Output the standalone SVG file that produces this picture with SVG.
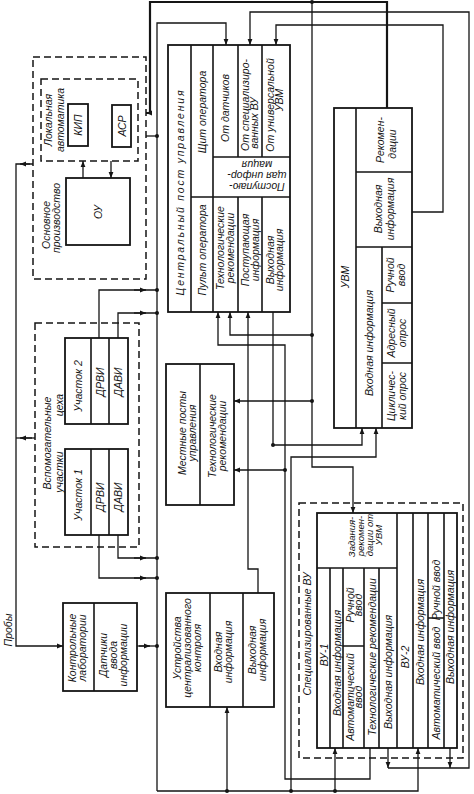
<svg xmlns="http://www.w3.org/2000/svg" width="474" height="794" viewBox="0 0 474 794">
<style>
.bx{fill:none;stroke:#151515;stroke-width:1.8}
.ln{fill:none;stroke:#151515;stroke-width:1.6}
.ds{fill:none;stroke:#151515;stroke-width:1.5;stroke-dasharray:7 4}
.c{fill:none;stroke:#151515;stroke-width:1.3}
.d{fill:#151515}
.t{font-family:"Liberation Sans",Arial,sans-serif;font-style:italic;font-size:10.5px;fill:#151515;text-anchor:middle}
.s{font-size:9.5px}
</style>
<defs>
<marker id="a" viewBox="0 0 10 10" refX="10" refY="5" markerWidth="7" markerHeight="6" orient="auto" markerUnits="userSpaceOnUse"><path d="M0,1 L10,5 L0,9 z" fill="#151515"/></marker>
</defs>
<rect width="474" height="794" fill="#fff"/>

<g id="osnovnoe">
<rect class="ds" x="33" y="57" width="113" height="222"/>
<text class="t" transform="translate(46,225) rotate(-90)" dy="0.35em">Основное</text>
<text class="t" transform="translate(56,218) rotate(-90)" dy="0.35em">производство</text>
</g>
<g id="lokalnaya">
<rect class="ds" x="41" y="79" width="97" height="82"/>
<text class="t" transform="translate(48,120) rotate(-90)" dy="0.35em">Локальная</text>
<text class="t" transform="translate(60,120) rotate(-90)" dy="0.35em">автоматика</text>
</g>
<g id="kip">
<rect class="bx" x="68" y="104" width="20" height="42"/>
<text class="t" transform="translate(78,125) rotate(-90)" dy="0.35em">КИП</text>
</g>
<g id="asr">
<rect class="bx" x="112" y="105" width="19" height="42"/>
<text class="t" transform="translate(122,126) rotate(-90)" dy="0.35em">АСР</text>
</g>
<g id="ou">
<rect class="bx" x="66" y="178" width="64" height="67"/>
<text class="t" transform="translate(98,212) rotate(-90)" dy="0.35em">ОУ</text>
</g>

<g id="vspomog">
<rect class="ds" x="35" y="323" width="104" height="224"/>
<text class="t" transform="translate(47,443) rotate(-90)" dy="0.35em">Вспомогательные</text>
<text class="t" transform="translate(59,405) rotate(-90)" dy="0.35em">цеха</text>
<text class="t" transform="translate(59,472) rotate(-90)" dy="0.35em">участки</text>
</g>
<g id="uch2">
<rect class="bx" x="65" y="338" width="63" height="86"/>
<path class="ln" d="M91 338V424M109 338V424"/>
<text class="t" transform="translate(78,386) rotate(-90)" dy="0.35em">Участок 2</text>
<text class="t" transform="translate(100,382) rotate(-90)" dy="0.35em">ДРВИ</text>
<text class="t" transform="translate(118,382) rotate(-90)" dy="0.35em">ДАВИ</text>
</g>
<g id="uch1">
<rect class="bx" x="65" y="449" width="63" height="86"/>
<path class="ln" d="M91 449V535M109 449V535"/>
<text class="t" transform="translate(78,495) rotate(-90)" dy="0.35em">Участок 1</text>
<text class="t" transform="translate(100,497) rotate(-90)" dy="0.35em">ДРВИ</text>
<text class="t" transform="translate(118,497) rotate(-90)" dy="0.35em">ДАВИ</text>
</g>

<g id="laborat">
<rect class="bx" x="63" y="603" width="74" height="88"/>
<path class="ln" d="M94 603V691"/>
<text class="t" transform="translate(72,648) rotate(-90)" dy="0.35em">Контрольные</text>
<text class="t" transform="translate(82,648) rotate(-90)" dy="0.35em">лаборатории</text>
<text class="t" transform="translate(103,655) rotate(-90)" dy="0.35em">Датчики</text>
<text class="t" transform="translate(113,655) rotate(-90)" dy="0.35em">ввода</text>
<text class="t" transform="translate(123,655) rotate(-90)" dy="0.35em">информации</text>
</g>
<text class="t" transform="translate(8,630) rotate(-90)" dy="0.35em">Пробы</text>

<g id="centralny">
<rect class="bx" x="168" y="45" width="122" height="267"/>
<path class="ln" d="M191 45V312M213 45V312M191 197H290M213 157H290M238 45V157M262 45V157M238 197V312M262 197V312"/>
<text class="t" transform="translate(180,193) rotate(-90)" dy="0.35em" textLength="205">Центральный пост управления</text>
<text class="t" transform="translate(202,112) rotate(-90)" dy="0.35em">Щит оператора</text>
<text class="t" transform="translate(202,250) rotate(-90)" dy="0.35em">Пульт оператора</text>
<text class="t" transform="translate(225,108) rotate(-90)" dy="0.35em">От датчиков</text>
<text class="t" transform="translate(245,105) rotate(-90)" dy="0.35em">От специализиро-</text>
<text class="t" transform="translate(254,123) rotate(-90)" dy="0.35em">ванных ВУ</text>
<text class="t" transform="translate(270,105) rotate(-90)" dy="0.35em">От универсальной</text>
<text class="t" transform="translate(279,100) rotate(-90)" dy="0.35em">УВМ</text>
<text class="t" transform="translate(257,187) rotate(180)" dy="0.35em">Поступаю-</text>
<text class="t" transform="translate(257,176) rotate(180)" dy="0.35em">щая инфор-</text>
<text class="t" transform="translate(257,165) rotate(180)" dy="0.35em">мация</text>
<text class="t" transform="translate(220,248) rotate(-90)" dy="0.35em">Технологические</text>
<text class="t" transform="translate(230,248) rotate(-90)" dy="0.35em">рекомендации</text>
<text class="t" transform="translate(245,250) rotate(-90)" dy="0.35em">Поступающая</text>
<text class="t" transform="translate(255,250) rotate(-90)" dy="0.35em">информация</text>
<text class="t" transform="translate(270,260) rotate(-90)" dy="0.35em">Выходная</text>
<text class="t" transform="translate(279,260) rotate(-90)" dy="0.35em">информация</text>
</g>

<g id="mestnye">
<rect class="bx" x="166" y="364" width="68" height="141"/>
<path class="ln" d="M200 364V505"/>
<text class="t" transform="translate(182,433) rotate(-90)" dy="0.35em">Местные посты</text>
<text class="t" transform="translate(192,433) rotate(-90)" dy="0.35em">управления</text>
<text class="t" transform="translate(212,436) rotate(-90)" dy="0.35em">Технологические</text>
<text class="t" transform="translate(222,436) rotate(-90)" dy="0.35em">рекомендации</text>
</g>

<g id="ustroystva">
<rect class="bx" x="166" y="593" width="108" height="114"/>
<path class="ln" d="M210 593V707M243 593V707"/>
<text class="t" transform="translate(177,648) rotate(-90)" dy="0.35em">Устройства</text>
<text class="t" transform="translate(187,648) rotate(-90)" dy="0.35em">централизованного</text>
<text class="t" transform="translate(197,648) rotate(-90)" dy="0.35em">контроля</text>
<text class="t" transform="translate(218,652) rotate(-90)" dy="0.35em">Входная</text>
<text class="t" transform="translate(228,652) rotate(-90)" dy="0.35em">информация</text>
<text class="t" transform="translate(252,650) rotate(-90)" dy="0.35em">Выходная</text>
<text class="t" transform="translate(262,650) rotate(-90)" dy="0.35em">информация</text>
</g>

<g id="uvm">
<rect class="bx" x="334" y="108" width="78" height="320"/>
<path class="ln" d="M356 108V428M356 172H412M356 247H412M382 247V428M382 303H412M382 363H412"/>
<text class="t" transform="translate(345,277) rotate(-90)" dy="0.35em">УВМ</text>
<text class="t" transform="translate(380,140) rotate(-90)" dy="0.35em">Рекомен-</text>
<text class="t" transform="translate(392,144) rotate(-90)" dy="0.35em">дации</text>
<text class="t" transform="translate(378,209) rotate(-90)" dy="0.35em">Выходная</text>
<text class="t" transform="translate(390,209) rotate(-90)" dy="0.35em">информация</text>
<text class="t" transform="translate(369,343) rotate(-90)" dy="0.35em">Входная информация</text>
<text class="t" transform="translate(390,275) rotate(-90)" dy="0.35em">Ручной</text>
<text class="t" transform="translate(401,275) rotate(-90)" dy="0.35em">ввод</text>
<text class="t" transform="translate(391,333) rotate(-90)" dy="0.35em">Адресный</text>
<text class="t" transform="translate(402,333) rotate(-90)" dy="0.35em">опрос</text>
<text class="t" transform="translate(391,396) rotate(-90)" dy="0.35em">Цикличес-</text>
<text class="t" transform="translate(402,396) rotate(-90)" dy="0.35em">кий опрос</text>
</g>

<g id="spec-vu">
<rect class="ds" x="299" y="503" width="164" height="255"/>
<text class="t" transform="translate(307,634) rotate(-90)" dy="0.35em">Специализированные ВУ</text>
<rect class="bx" x="317" y="513" width="140" height="235"/>
<path class="ln" d="M317 568H397M330 568V748M343 568V748M364 568V748M379 568V748M397 513V748M413 513V748M428 513V748M444 513V748M343 646H364M428 618H444"/>
<text class="t s" transform="translate(352,537) rotate(-90)" dy="0.35em">Задания-</text>
<text class="t s" transform="translate(361,536) rotate(-90)" dy="0.35em">рекомен-</text>
<text class="t s" transform="translate(370,535) rotate(-90)" dy="0.35em">дации от</text>
<text class="t s" transform="translate(379,535) rotate(-90)" dy="0.35em">УВМ</text>
<text class="t" transform="translate(324,655) rotate(-90)" dy="0.35em">ВУ-1</text>
<text class="t" transform="translate(337,663) rotate(-90)" dy="0.35em">Входная информация</text>
<text class="t" transform="translate(350,605) rotate(-90)" dy="0.35em">Ручной</text>
<text class="t" transform="translate(358,605) rotate(-90)" dy="0.35em">ввод</text>
<text class="t" transform="translate(350,697) rotate(-90)" dy="0.35em">Автоматический</text>
<text class="t" transform="translate(358,697) rotate(-90)" dy="0.35em">ввод</text>
<text class="t" transform="translate(372,657) rotate(-90)" dy="0.35em">Технологические рекомендации</text>
<text class="t" transform="translate(388,672) rotate(-90)" dy="0.35em">Выходная информация</text>
<text class="t" transform="translate(405,657) rotate(-90)" dy="0.35em">ВУ-2</text>
<text class="t" transform="translate(420,632) rotate(-90)" dy="0.35em">Входная информация</text>
<text class="t" transform="translate(436,590) rotate(-90)" dy="0.35em">Ручной ввод</text>
<text class="t" transform="translate(436,683) rotate(-90)" dy="0.35em">Автоматический ввод</text>
<text class="t" transform="translate(450,627) rotate(-90)" dy="0.35em">Выходная информация</text>
</g>

<g id="connectors">
<path class="c" d="M33 164H16V646H63" marker-end="url(#a)"/>
<path class="c" d="M30 164H20" marker-end="url(#a)"/>
<path class="c" d="M35 438H16"/>
<path class="c" d="M32 438H20" marker-end="url(#a)"/>
<path class="c" d="M83 178V161" marker-end="url(#a)"/>
<path class="c" d="M111 161V178" marker-end="url(#a)"/>
<path class="c" d="M146 136H157"/>
<path class="c" style="stroke-width:2.2" d="M387 108V2H150V113H146" marker-end="url(#a)"/>
<path class="c" d="M312 2V467H353V513" marker-end="url(#a)"/>
<path class="c" d="M312 335H230V312" marker-end="url(#a)"/>
<path class="c" d="M312 401H234" marker-end="url(#a)"/>
<path class="c" d="M157 791V23H226V45" marker-end="url(#a)"/>
<path class="c" d="M157 791H418V748" marker-end="url(#a)"/>
<path class="c" d="M227 791V707" marker-end="url(#a)"/>
<path class="c" d="M335 791V748" marker-end="url(#a)"/>
<path class="c" d="M291 791V457H376V428" marker-end="url(#a)"/>
<path class="c" d="M99 338V290H157"/>
<path class="c" d="M134 290H146" marker-end="url(#a)"/>
<path class="c" d="M118 338V313H157"/>
<path class="c" d="M134 313H146" marker-end="url(#a)"/>
<path class="c" d="M99 535V578H157"/>
<path class="c" d="M134 578H146" marker-end="url(#a)"/>
<path class="c" d="M118 535V558H157"/>
<path class="c" d="M134 558H146" marker-end="url(#a)"/>
<path class="c" d="M137 646H157"/>
<path class="c" d="M139 646H150" marker-end="url(#a)"/>
<path class="c" d="M273 312V445H362V428" marker-end="url(#a)"/>
<path class="c" d="M258 593V569H248V312" marker-end="url(#a)"/>
<path class="c" d="M370 748V779H285V345H218V312" marker-end="url(#a)"/>
<path class="c" d="M285 470H234" marker-end="url(#a)"/>
<path class="c" d="M388 748V768" marker-end="url(#a)"/>
<path class="c" d="M450 748V768" marker-end="url(#a)"/>
<path class="c" d="M388 768H469V12H250V45" marker-end="url(#a)"/>
<path class="c" d="M412 212H443V25H276V45" marker-end="url(#a)"/>
<g class="d">
<circle cx="157" cy="136" r="2"/><circle cx="157" cy="290" r="2"/><circle cx="157" cy="313" r="2"/>
<circle cx="157" cy="558" r="2"/><circle cx="157" cy="578" r="2"/><circle cx="157" cy="646" r="2"/>
<circle cx="227" cy="791" r="2"/><circle cx="291" cy="791" r="2"/><circle cx="335" cy="791" r="2"/>
<circle cx="312" cy="2" r="2"/><circle cx="312" cy="335" r="2"/><circle cx="312" cy="401" r="2"/>
<circle cx="285" cy="470" r="2"/><circle cx="273" cy="445" r="2"/>
</g>
</g>
</svg>
